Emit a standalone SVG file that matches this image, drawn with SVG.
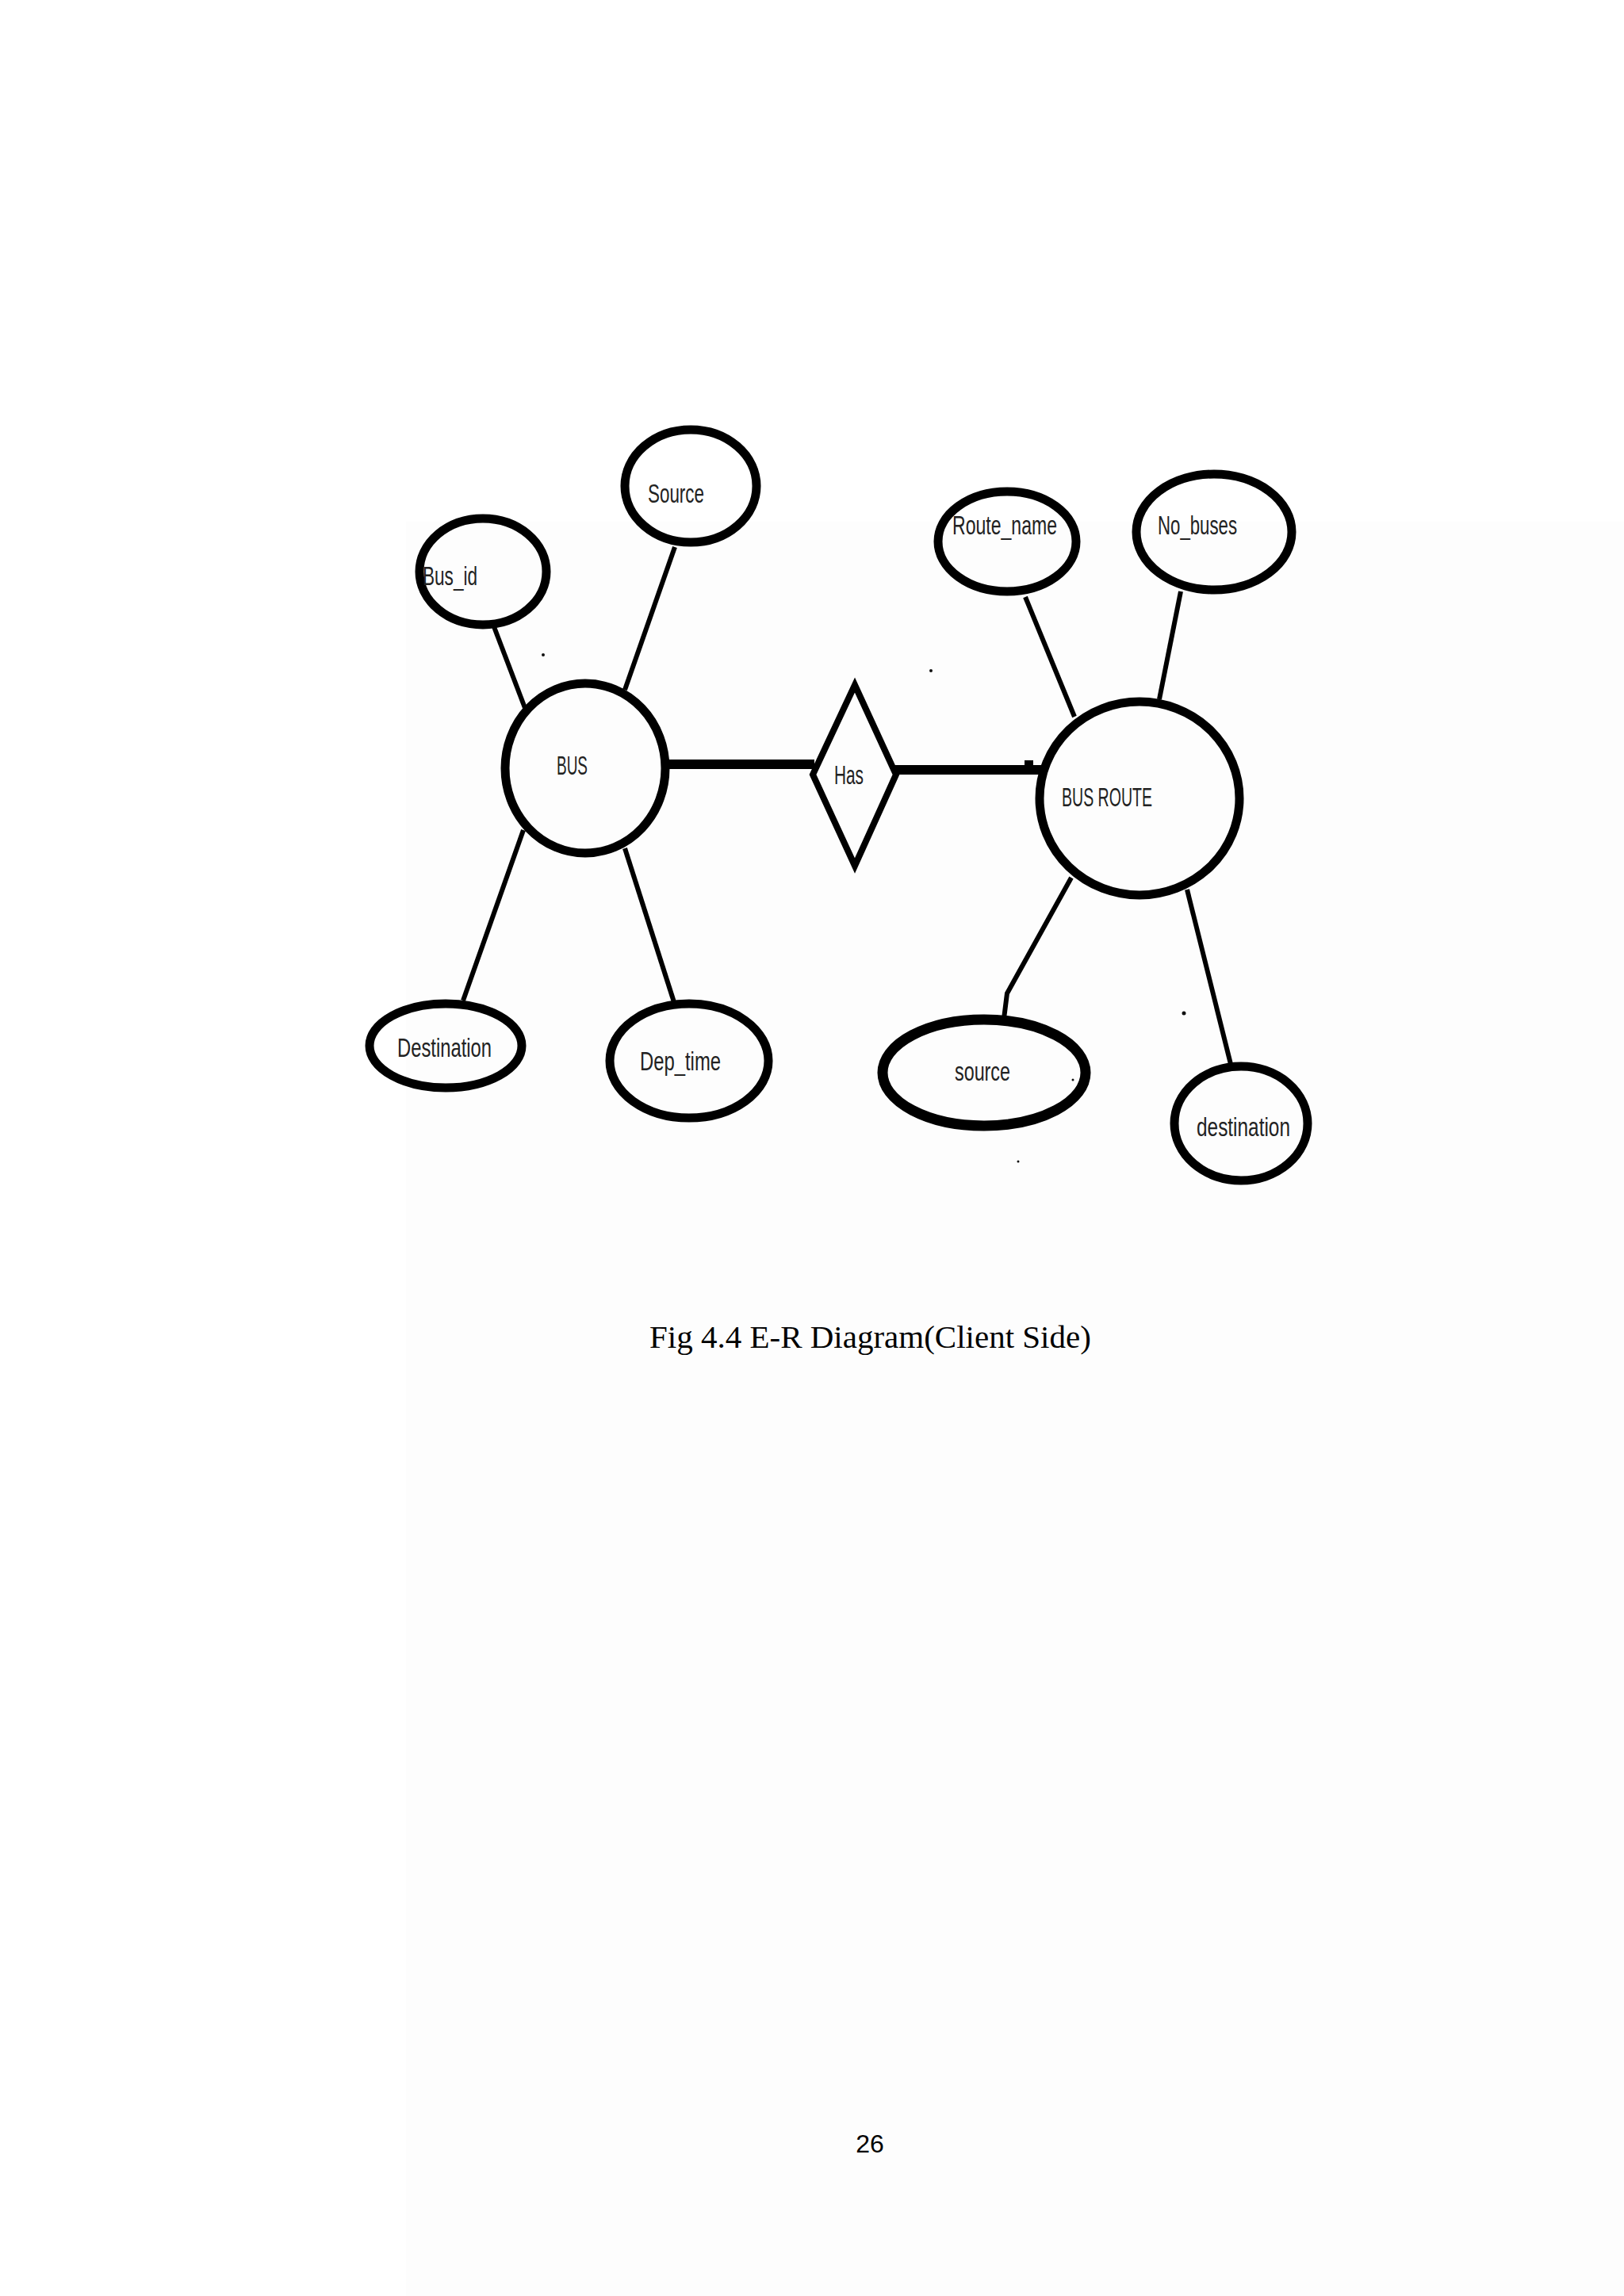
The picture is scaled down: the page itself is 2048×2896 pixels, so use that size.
<svg xmlns="http://www.w3.org/2000/svg" width="2048" height="2896" viewBox="0 0 2048 2896">
<style>
.ent{fill:none;stroke:#000;stroke-width:11}
.rel{fill:none;stroke:#000;stroke-width:8;stroke-linejoin:miter}
.ln{fill:none;stroke:#000;stroke-width:6}
.thick{fill:none;stroke:#000;stroke-width:12}
.lbl{font-family:"Liberation Sans",Arial,sans-serif;font-size:33px;fill:#222}
.cap{font-family:"Liberation Serif","Times New Roman",serif;font-size:41px;fill:#000}
.pg{font-family:"Liberation Sans",Arial,sans-serif;font-size:32px;fill:#000}
.dot{fill:#111}
</style>
<rect x="0" y="0" width="2048" height="2896" fill="#ffffff"/>
<rect x="512" y="658" width="1536" height="2238" fill="#fdfdfd"/>
<g id="connectors">
<line class="ln" x1="622" y1="788" x2="662" y2="893"/>
<line class="ln" x1="851" y1="690" x2="788" y2="870"/>
<line class="ln" x1="660" y1="1047" x2="584" y2="1262"/>
<line class="ln" x1="788" y1="1070" x2="850" y2="1264"/>
<line class="ln" x1="1293" y1="753" x2="1355" y2="904"/>
<line class="ln" x1="1489" y1="746" x2="1462" y2="882"/>
<polyline class="ln" points="1351,1107 1270,1253 1266,1285"/>
<line class="ln" x1="1497" y1="1122" x2="1552" y2="1342"/>
<line class="thick" x1="840" y1="964" x2="1027" y2="964"/>
<line class="thick" x1="1128" y1="971" x2="1313" y2="971"/>
<rect x="1292" y="959" width="11" height="8" fill="#000"/>
</g>
<g id="bus">
<ellipse class="ent" cx="738" cy="969" rx="101" ry="107"/>
<text class="lbl" x="702" y="977" textLength="39" lengthAdjust="spacingAndGlyphs">BUS</text>
</g>
<g id="bus_id">
<ellipse class="ent" cx="609" cy="721" rx="80" ry="67"/>
<text class="lbl" x="533" y="738" textLength="69" lengthAdjust="spacingAndGlyphs">Bus_id</text>
</g>
<g id="bus_source">
<ellipse class="ent" cx="871" cy="613" rx="83" ry="71"/>
<text class="lbl" x="817" y="634" textLength="71" lengthAdjust="spacingAndGlyphs">Source</text>
</g>
<g id="bus_destination">
<ellipse class="ent" cx="562" cy="1319" rx="96" ry="53"/>
<text class="lbl" x="501" y="1333" textLength="119" lengthAdjust="spacingAndGlyphs">Destination</text>
</g>
<g id="dep_time">
<ellipse class="ent" cx="869" cy="1338" rx="100" ry="72"/>
<text class="lbl" x="807" y="1350" textLength="102" lengthAdjust="spacingAndGlyphs">Dep_time</text>
</g>
<g id="has">
<polygon class="rel" points="1078,864 1130,977 1078,1092 1025,977"/>
<text class="lbl" x="1052" y="989" textLength="37" lengthAdjust="spacingAndGlyphs">Has</text>
</g>
<g id="bus_route">
<ellipse class="ent" cx="1437" cy="1007" rx="126" ry="122"/>
<text class="lbl" x="1339" y="1017" textLength="114" lengthAdjust="spacingAndGlyphs">BUS ROUTE</text>
</g>
<g id="route_name">
<ellipse class="ent" cx="1270" cy="683" rx="87" ry="63"/>
<text class="lbl" x="1201" y="674" textLength="132" lengthAdjust="spacingAndGlyphs">Route_name</text>
</g>
<g id="no_buses">
<ellipse class="ent" cx="1531" cy="671" rx="98" ry="73"/>
<text class="lbl" x="1460" y="674" textLength="100" lengthAdjust="spacingAndGlyphs">No_buses</text>
</g>
<g id="route_source">
<ellipse class="ent" cx="1241" cy="1353" rx="128" ry="67" style="stroke-width:13"/>
<text class="lbl" x="1204" y="1363" textLength="70" lengthAdjust="spacingAndGlyphs">source</text>
</g>
<g id="route_destination">
<ellipse class="ent" cx="1565" cy="1417" rx="84" ry="72"/>
<text class="lbl" x="1509" y="1433" textLength="118" lengthAdjust="spacingAndGlyphs">destination</text>
</g>
<g id="specks">
<circle class="dot" cx="685" cy="826" r="2"/>
<circle class="dot" cx="1174" cy="846" r="2"/>
<circle class="dot" cx="1493" cy="1278" r="2.5"/>
<circle class="dot" cx="1353" cy="1362" r="1.5"/>
<circle class="dot" cx="1284" cy="1465" r="1.5" fill="#999"/>
</g>
<text class="cap" x="819" y="1700">Fig 4.4 E-R Diagram(Client Side)</text>
<text class="pg" x="1097" y="2715" text-anchor="middle">26</text>
</svg>
